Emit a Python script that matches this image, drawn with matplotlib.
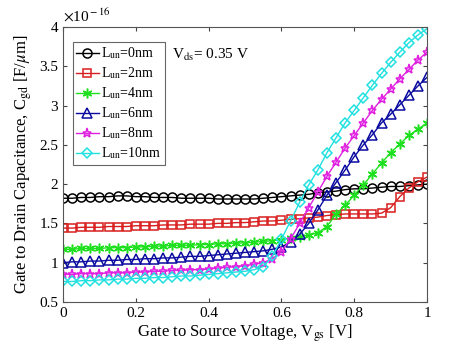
import numpy as np
import matplotlib
matplotlib.use('Agg')
import matplotlib.pyplot as plt

plt.rcParams['font.family'] = ['Liberation Serif', 'DejaVu Serif']
plt.rcParams['mathtext.fontset'] = 'stix'

# gate-source voltage grid (V), 41 points
vgs = np.linspace(0, 1, 41)

# Cgd in units of 1e-16 F/um
c_0nm = [1.82, 1.82, 1.83, 1.83, 1.84, 1.84, 1.85, 1.85, 1.84, 1.84, 1.83, 1.83, 1.83, 1.82,
         1.82, 1.82, 1.82, 1.81, 1.81, 1.81, 1.81, 1.81, 1.82, 1.83, 1.84, 1.85, 1.86, 1.87,
         1.89, 1.90, 1.91, 1.93, 1.94, 1.94, 1.95, 1.96, 1.97, 1.97, 1.98, 1.99, 2.00]
c_2nm = [1.44, 1.44, 1.45, 1.45, 1.45, 1.46, 1.46, 1.46, 1.47, 1.47, 1.47, 1.48, 1.48, 1.48,
         1.49, 1.49, 1.49, 1.50, 1.50, 1.51, 1.51, 1.52, 1.53, 1.53, 1.54, 1.55, 1.56, 1.57,
         1.58, 1.60, 1.61, 1.62, 1.62, 1.62, 1.62, 1.63, 1.70, 1.84, 1.95, 2.03, 2.09]
c_4nm = [1.17, 1.17, 1.18, 1.18, 1.18, 1.19, 1.19, 1.19, 1.20, 1.20, 1.21, 1.21, 1.22, 1.22,
         1.22, 1.23, 1.23, 1.24, 1.24, 1.25, 1.25, 1.26, 1.27, 1.28, 1.29, 1.31, 1.33, 1.35,
         1.38, 1.46, 1.62, 1.73, 1.86, 1.99, 2.13, 2.27, 2.40, 2.51, 2.62, 2.70, 2.78]
c_6nm = [1.00, 1.01, 1.01, 1.02, 1.02, 1.03, 1.03, 1.04, 1.04, 1.05, 1.05, 1.06, 1.06, 1.07,
         1.08, 1.08, 1.09, 1.10, 1.11, 1.12, 1.13, 1.14, 1.15, 1.17, 1.20, 1.26, 1.36, 1.50,
         1.67, 1.86, 2.02, 2.18, 2.35, 2.50, 2.63, 2.78, 2.89, 3.01, 3.13, 3.25, 3.36]
c_8nm = [0.85, 0.85, 0.86, 0.86, 0.86, 0.87, 0.87, 0.87, 0.88, 0.88, 0.89, 0.89, 0.90, 0.90,
         0.91, 0.91, 0.92, 0.93, 0.94, 0.95, 0.96, 0.98, 1.00, 1.05, 1.14, 1.30, 1.50, 1.70,
         1.90, 2.10, 2.28, 2.46, 2.62, 2.78, 2.94, 3.08, 3.21, 3.34, 3.46, 3.58, 3.68]
c_10nm = [0.76, 0.76, 0.77, 0.77, 0.78, 0.78, 0.79, 0.79, 0.80, 0.80, 0.81, 0.81, 0.82, 0.83,
          0.83, 0.84, 0.85, 0.86, 0.87, 0.88, 0.89, 0.91, 0.95, 1.08, 1.30, 1.53, 1.77, 1.99,
          2.18, 2.40, 2.59, 2.78, 2.94, 3.10, 3.26, 3.41, 3.55, 3.68, 3.80, 3.90, 3.98]

labels = ['0nm', '2nm', '4nm', '6nm', '8nm', '10nm']
series = [c_0nm, c_2nm, c_4nm, c_6nm, c_8nm, c_10nm]
colors = ['k', '#d81e1e', '#1fe01f', '#0a0aa0', '#e020e0', '#20e0e0']
markers = ['o', 's', (6, 2, 0), '^', '*', 'D']
msizes = [6.5, 6.0, 7.0, 7.0, 6.5, 5.5]

fig = plt.figure(figsize=(4.74, 3.47), dpi=100)
ax = fig.add_axes([0.133, 0.130, 0.768, 0.792])

for y, lab, c, m, ms in zip(series, labels, colors, markers, msizes):
    ax.plot(vgs, y, color=c, marker=m, ms=ms, mfc='none', mec=c, mew=1.1, lw=1.0,
            label=r'L$_{\rm un}$=' + lab)

ax.set_xlim(0, 1)
ax.set_ylim(0.5, 4)
ax.set_xticks([0, 0.2, 0.4, 0.6, 0.8, 1])
ax.set_xticklabels(['0', '0.2', '0.4', '0.6', '0.8', '1'])
ax.set_yticks([0.5, 1, 1.5, 2, 2.5, 3, 3.5, 4])
ax.set_yticklabels(['0.5', '1', '1.5', '2', '2.5', '3', '3.5', '4'])
ax.tick_params(direction='in', top=True, right=True, labelsize=11, length=3, color='#444444')
for s in ax.spines.values():
    s.set_color('#555555')
    s.set_linewidth(0.8)

ax.set_xlabel(r'Gate to Source Voltage, V$_{\rm gs}$ [V]', fontsize=12, labelpad=2)
ax.set_ylabel(r'Gate to Drain Capacitance, C$_{\rm gd}$ [F/$\mu$m]', fontsize=12, labelpad=4)
ax.text(0.0, 1.01, r'$\times$10$^{\rm -16}$', transform=ax.transAxes, fontsize=11,
        ha='left', va='bottom')
ax.text(0.30, 3.6, r'V$_{\rm ds}$= 0.35 V', fontsize=11)

leg = ax.legend(loc='upper left', fontsize=10, handlelength=1.6, handletextpad=0.2,
                labelspacing=0.3, borderpad=0.25, borderaxespad=0, fancybox=False,
                edgecolor='#666666', framealpha=1, bbox_to_anchor=(0.027, 0.945))
leg.get_frame().set_linewidth(0.8)

fig.savefig('out.png', dpi=100)
